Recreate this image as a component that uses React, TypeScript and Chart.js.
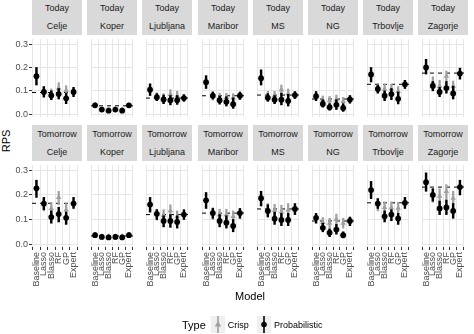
import React, { useEffect, useRef } from 'react';
import { Chart, registerables } from 'chart.js';

Chart.register(...registerables);

const FAMILY = '"Liberation Sans", Arial, Helvetica, sans-serif';

const MODELS = ['Baseline', 'Lasso', 'Blasso', 'RF', 'GP', 'Expert'];
const CITIES = ['Celje', 'Koper', 'Ljubljana', 'Maribor', 'MS', 'NG', 'Trbovlje', 'Zagorje'];
const HORIZONS = ['Today', 'Tomorrow'];
const Y_TICKS = [0, 0.1, 0.2, 0.3];

// ---- Today ----
const TODAY_PROB = [
  [0.163, 0.095, 0.080, 0.086, 0.068, 0.095],
  [0.038, 0.020, 0.015, 0.020, 0.015, 0.038],
  [0.105, 0.073, 0.063, 0.060, 0.060, 0.069],
  [0.137, 0.079, 0.060, 0.053, 0.043, 0.079],
  [0.154, 0.070, 0.062, 0.062, 0.057, 0.082],
  [0.077, 0.044, 0.030, 0.040, 0.027, 0.063],
  [0.170, 0.108, 0.079, 0.086, 0.066, 0.128],
  [0.200, 0.121, 0.095, 0.112, 0.089, 0.174],
];
const TODAY_PROB_LO = [
  [0.125, 0.073, 0.062, 0.065, 0.045, 0.075],
  [0.028, 0.012, 0.007, 0.012, 0.007, 0.029],
  [0.080, 0.058, 0.045, 0.040, 0.042, 0.055],
  [0.110, 0.065, 0.043, 0.035, 0.025, 0.063],
  [0.125, 0.055, 0.045, 0.040, 0.035, 0.067],
  [0.058, 0.030, 0.017, 0.020, 0.012, 0.047],
  [0.138, 0.090, 0.058, 0.062, 0.044, 0.110],
  [0.172, 0.100, 0.075, 0.090, 0.065, 0.150],
];
const TODAY_PROB_HI = [
  [0.200, 0.118, 0.100, 0.110, 0.090, 0.115],
  [0.048, 0.028, 0.023, 0.028, 0.023, 0.047],
  [0.130, 0.088, 0.082, 0.080, 0.080, 0.084],
  [0.165, 0.095, 0.078, 0.075, 0.070, 0.095],
  [0.190, 0.088, 0.080, 0.090, 0.085, 0.097],
  [0.097, 0.062, 0.045, 0.062, 0.045, 0.080],
  [0.200, 0.125, 0.100, 0.110, 0.095, 0.145],
  [0.235, 0.140, 0.115, 0.140, 0.120, 0.197],
];
const TODAY_CRISP = [
  [null, 0.098, 0.088, 0.112, 0.102, null],
  [null, 0.024, 0.020, 0.024, 0.020, null],
  [null, 0.075, 0.070, 0.085, 0.078, null],
  [null, 0.078, 0.072, 0.072, 0.070, null],
  [null, 0.080, 0.080, 0.105, 0.088, null],
  [null, 0.060, 0.058, 0.062, 0.055, null],
  [null, 0.112, 0.108, 0.108, 0.098, null],
  [null, 0.135, 0.120, 0.163, 0.120, null],
];
const TODAY_CRISP_LO = [
  [null, 0.078, 0.068, 0.090, 0.080, null],
  [null, 0.016, 0.012, 0.016, 0.012, null],
  [null, 0.058, 0.052, 0.065, 0.058, null],
  [null, 0.060, 0.055, 0.055, 0.052, null],
  [null, 0.062, 0.062, 0.085, 0.068, null],
  [null, 0.042, 0.040, 0.042, 0.038, null],
  [null, 0.092, 0.088, 0.088, 0.078, null],
  [null, 0.115, 0.100, 0.140, 0.098, null],
];
const TODAY_CRISP_HI = [
  [null, 0.118, 0.108, 0.135, 0.122, null],
  [null, 0.032, 0.028, 0.032, 0.028, null],
  [null, 0.092, 0.088, 0.105, 0.098, null],
  [null, 0.096, 0.090, 0.090, 0.088, null],
  [null, 0.098, 0.098, 0.125, 0.108, null],
  [null, 0.078, 0.076, 0.082, 0.072, null],
  [null, 0.132, 0.128, 0.128, 0.118, null],
  [null, 0.160, 0.145, 0.185, 0.142, null],
];
const TODAY_REF = [0.093, 0.036, 0.069, 0.079, 0.082, 0.065, 0.128, 0.176];

// ---- Tomorrow ----
const TOM_PROB = [
  [0.227, 0.165, 0.110, 0.122, 0.107, 0.165],
  [0.036, 0.029, 0.027, 0.029, 0.027, 0.036],
  [0.161, 0.123, 0.094, 0.094, 0.090, 0.120],
  [0.178, 0.126, 0.094, 0.087, 0.074, 0.126],
  [0.187, 0.135, 0.103, 0.098, 0.098, 0.143],
  [0.107, 0.066, 0.046, 0.059, 0.036, 0.094],
  [0.220, 0.165, 0.113, 0.120, 0.104, 0.168],
  [0.252, 0.200, 0.145, 0.149, 0.135, 0.232],
];
const TOM_PROB_LO = [
  [0.190, 0.140, 0.085, 0.090, 0.080, 0.145],
  [0.026, 0.020, 0.018, 0.020, 0.018, 0.027],
  [0.130, 0.100, 0.070, 0.068, 0.065, 0.100],
  [0.145, 0.105, 0.070, 0.065, 0.050, 0.105],
  [0.155, 0.110, 0.080, 0.075, 0.075, 0.120],
  [0.085, 0.050, 0.030, 0.040, 0.025, 0.075],
  [0.185, 0.145, 0.090, 0.095, 0.080, 0.145],
  [0.215, 0.175, 0.120, 0.120, 0.105, 0.200],
];
const TOM_PROB_HI = [
  [0.260, 0.190, 0.135, 0.150, 0.130, 0.190],
  [0.046, 0.038, 0.036, 0.038, 0.036, 0.046],
  [0.190, 0.140, 0.115, 0.120, 0.115, 0.140],
  [0.210, 0.145, 0.120, 0.115, 0.100, 0.145],
  [0.215, 0.160, 0.130, 0.125, 0.125, 0.165],
  [0.125, 0.085, 0.062, 0.080, 0.050, 0.110],
  [0.255, 0.185, 0.135, 0.140, 0.125, 0.190],
  [0.290, 0.225, 0.175, 0.180, 0.165, 0.260],
];
const TOM_CRISP = [
  [null, 0.160, 0.145, 0.190, 0.139, null],
  [null, 0.031, 0.031, 0.031, 0.031, null],
  [null, 0.120, 0.118, 0.136, 0.112, null],
  [null, 0.124, 0.120, 0.120, 0.113, null],
  [null, 0.140, 0.138, 0.132, 0.139, null],
  [null, 0.088, 0.085, 0.100, 0.085, null],
  [null, 0.160, 0.149, 0.148, 0.146, null],
  [null, 0.198, 0.195, 0.214, 0.187, null],
];
const TOM_CRISP_LO = [
  [null, 0.135, 0.120, 0.160, 0.115, null],
  [null, 0.023, 0.023, 0.023, 0.023, null],
  [null, 0.098, 0.095, 0.110, 0.090, null],
  [null, 0.100, 0.098, 0.098, 0.092, null],
  [null, 0.115, 0.112, 0.108, 0.112, null],
  [null, 0.068, 0.065, 0.078, 0.065, null],
  [null, 0.135, 0.125, 0.125, 0.122, null],
  [null, 0.170, 0.165, 0.185, 0.160, null],
];
const TOM_CRISP_HI = [
  [null, 0.185, 0.170, 0.215, 0.165, null],
  [null, 0.040, 0.040, 0.040, 0.040, null],
  [null, 0.142, 0.140, 0.160, 0.135, null],
  [null, 0.148, 0.142, 0.142, 0.135, null],
  [null, 0.165, 0.162, 0.158, 0.165, null],
  [null, 0.108, 0.105, 0.122, 0.105, null],
  [null, 0.185, 0.172, 0.172, 0.170, null],
  [null, 0.228, 0.225, 0.242, 0.215, null],
];
const TOM_REF = [0.166, 0.033, 0.120, 0.126, 0.143, 0.094, 0.168, 0.232];

const SERIES = [
  { prob: TODAY_PROB, lo: TODAY_PROB_LO, hi: TODAY_PROB_HI, crisp: TODAY_CRISP, clo: TODAY_CRISP_LO, chi: TODAY_CRISP_HI, ref: TODAY_REF },
  { prob: TOM_PROB, lo: TOM_PROB_LO, hi: TOM_PROB_HI, crisp: TOM_CRISP, clo: TOM_CRISP_LO, chi: TOM_CRISP_HI, ref: TOM_REF },
];

// layout
const panelLeft = (c: number) => 32 + Math.round(c * 55.2);
const PANEL_W = 50;
const PANEL_H = 86;
const ROW_TOP = [35, 161];
const STRIP_TOP = [-1, 125];
const STRIP_LAYER = 18;
const Y_AXIS_W = 32;
const X_AXIS_H = 46;

const GRID = '#E6E6E6';
const TICK_TEXT = '#4D4D4D';
const CRISP_COL = '#A0A0A0';

function Panel({ row, col }: { row: number; col: number }) {
  const ref = useRef<HTMLCanvasElement>(null);
  const isLeft = col === 0;
  const isBottom = row === 1;
  const w = PANEL_W + (isLeft ? Y_AXIS_W : 0);
  const h = PANEL_H + (isBottom ? X_AXIS_H : 0);
  const left = panelLeft(col) - (isLeft ? Y_AXIS_W : 0);
  const top = ROW_TOP[row];

  useEffect(() => {
    const s = SERIES[row];
    const prob = s.prob[col];
    const lo = s.lo[col];
    const hi = s.hi[col];
    const crisp = s.crisp[col];
    const clo = s.clo[col];
    const chi = s.chi[col];
    const refv = s.ref[col];

    const probPts = prob.map((v, i) => ({ x: i, y: v }));
    const probBars = prob.map((_, i) => ({ x: i, y: [lo[i], hi[i]] }));
    const crispPts: any[] = [];
    const crispBars: any[] = [];
    crisp.forEach((v, i) => {
      if (v !== null) {
        crispPts.push({ x: i, y: v });
        crispBars.push({ x: i, y: [clo[i], chi[i]] });
      }
    });

    const chart = new Chart(ref.current as HTMLCanvasElement, {
      type: 'scatter',
      data: {
        datasets: [
          {
            type: 'line',
            data: [{ x: -0.6, y: refv }, { x: 5.6, y: refv }],
            borderColor: '#000000',
            borderWidth: 1,
            borderDash: [4, 4],
            pointRadius: 0,
            order: 5,
          } as any,
          {
            type: 'bar',
            data: crispBars,
            backgroundColor: CRISP_COL,
            barThickness: 1.6,
            grouped: false,
            borderWidth: 0,
            order: 4,
          } as any,
          {
            type: 'scatter',
            data: crispPts,
            pointStyle: 'triangle',
            pointRadius: 3.2,
            backgroundColor: CRISP_COL,
            borderColor: CRISP_COL,
            borderWidth: 0,
            order: 3,
          } as any,
          {
            type: 'bar',
            data: probBars,
            backgroundColor: '#000000',
            barThickness: 1.8,
            grouped: false,
            borderWidth: 0,
            order: 2,
          } as any,
          {
            type: 'scatter',
            data: probPts,
            pointStyle: 'circle',
            pointRadius: 2.9,
            backgroundColor: '#000000',
            borderColor: '#000000',
            borderWidth: 0,
            order: 1,
          } as any,
        ],
      },
      options: {
        animation: false,
        responsive: false,
        devicePixelRatio: 1,
        layout: { padding: 0 },
        plugins: { legend: { display: false }, tooltip: { enabled: false }, title: { display: false } },
        events: [],
        scales: {
          x: {
            type: 'linear',
            min: -0.6,
            max: 5.6,
            offset: false,
            afterBuildTicks: (sc: any) => {
              sc.ticks = MODELS.map((_, i) => ({ value: i }));
            },
            ticks: {
              display: isBottom,
              autoSkip: false,
              minRotation: 90,
              maxRotation: 90,
              padding: 2,
              color: TICK_TEXT,
              font: { size: 9, family: FAMILY },
              callback: (v: any) => MODELS[Number(v)],
            },
            grid: {
              color: GRID,
              lineWidth: 1,
              drawTicks: isBottom,
              tickLength: 3,
              tickColor: '#333333',
              tickWidth: 1,
            },
            border: { display: false },
            afterFit: (sc: any) => {
              sc.height = isBottom ? X_AXIS_H : 0;
              sc.paddingLeft = 0;
              sc.paddingRight = 0;
              sc.paddingTop = 0;
              sc.paddingBottom = 0;
            },
          },
          y: {
            type: 'linear',
            min: -0.012,
            max: 0.322,
            afterBuildTicks: (sc: any) => {
              sc.ticks = Y_TICKS.map((v) => ({ value: v }));
            },
            ticks: {
              display: isLeft,
              padding: 1,
              color: TICK_TEXT,
              font: { size: 9, family: FAMILY },
              callback: (v: any) => Number(v).toFixed(1),
            },
            grid: {
              color: GRID,
              lineWidth: 1,
              drawTicks: isLeft,
              tickLength: 3,
              tickColor: '#333333',
              tickWidth: 1,
            },
            border: { display: false },
            afterFit: (sc: any) => {
              sc.width = isLeft ? Y_AXIS_W : 0;
              sc.paddingLeft = 0;
              sc.paddingRight = 0;
              sc.paddingTop = 0;
              sc.paddingBottom = 0;
            },
          },
        },
      } as any,
    });
    return () => chart.destroy();
  }, [row, col]);

  return (
    <canvas
      ref={ref}
      width={w}
      height={h}
      style={{ position: 'absolute', left, top, width: w, height: h }}
    />
  );
}

function Strip({ row, col }: { row: number; col: number }) {
  const base: React.CSSProperties = {
    position: 'absolute',
    left: panelLeft(col),
    width: PANEL_W,
    height: STRIP_LAYER,
    background: '#D9D9D9',
    color: '#1A1A1A',
    fontSize: 9,
    fontFamily: FAMILY,
    textAlign: 'center',
    lineHeight: `${STRIP_LAYER}px`,
    whiteSpace: 'nowrap',
  };
  return (
    <>
      <div style={{ ...base, top: STRIP_TOP[row] }}>{HORIZONS[row]}</div>
      <div style={{ ...base, top: STRIP_TOP[row] + STRIP_LAYER }}>{CITIES[col]}</div>
    </>
  );
}

export default function App() {
  const panels: JSX.Element[] = [];
  for (let r = 0; r < 2; r++) {
    for (let c = 0; c < CITIES.length; c++) {
      panels.push(<Strip key={`s${r}-${c}`} row={r} col={c} />);
      panels.push(<Panel key={`p${r}-${c}`} row={r} col={c} />);
    }
  }
  return (
    <div
      style={{
        position: 'fixed',
        left: 0,
        top: 0,
        width: 474,
        height: 334,
        overflow: 'hidden',
        background: '#FFFFFF',
        fontFamily: FAMILY,
      }}
    >
      {panels}
      <div
        style={{
          position: 'absolute',
          left: 6,
          top: 141,
          transform: 'translate(-50%, -50%) rotate(-90deg)',
          fontSize: 11,
          color: '#000',
          whiteSpace: 'nowrap',
        }}
      >
        RPS
      </div>
      <div
        style={{
          position: 'absolute',
          left: 250,
          top: 296,
          transform: 'translate(-50%, -50%)',
          fontSize: 11,
          color: '#000',
          whiteSpace: 'nowrap',
        }}
      >
        Model
      </div>
      <div style={{ position: 'absolute', left: 182, top: 316, height: 17, display: 'flex', alignItems: 'center', whiteSpace: 'nowrap', color: '#000' }}>
        <span style={{ fontSize: 11, marginRight: 5 }}>Type</span>
        <svg width={14} height={17} style={{ display: 'block' }}>
          <rect x={0} y={0} width={14} height={17} fill="#EFEFEF" />
          <line x1={7} y1={0} x2={7} y2={17} stroke={CRISP_COL} strokeWidth={1.6} />
          <polygon points="7,4.8 10.2,10.4 3.8,10.4" fill={CRISP_COL} />
        </svg>
        <span style={{ fontSize: 9, marginLeft: 3, marginRight: 8 }}>Crisp</span>
        <svg width={14} height={17} style={{ display: 'block' }}>
          <rect x={0} y={0} width={14} height={17} fill="#EFEFEF" />
          <line x1={7} y1={0} x2={7} y2={17} stroke="#000" strokeWidth={1.6} />
          <circle cx={7} cy={8.5} r={2.8} fill="#000" />
        </svg>
        <span style={{ fontSize: 9, marginLeft: 3 }}>Probabilistic</span>
      </div>
    </div>
  );
}
